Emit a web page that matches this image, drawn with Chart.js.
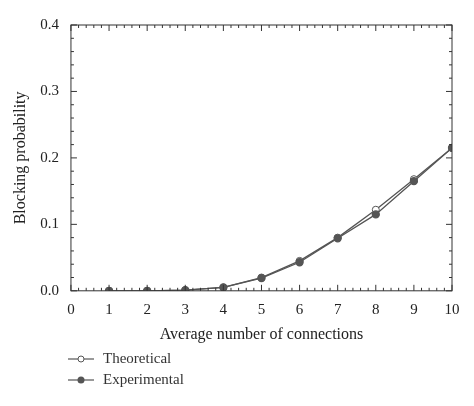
<!DOCTYPE html>
<html><head><script src="https://cdn.jsdelivr.net/npm/chart.js@4"></script>
<style>body{margin:0;background:#fff;font-family:"Liberation Serif",serif;}
#w{position:relative;width:474px;height:406px;}
.lg{position:absolute;left:68px;font-size:15px;color:#333;display:flex;align-items:center;}
.lg svg{margin-right:9px}</style></head>
<body><div id="w"><canvas id="c" width="474" height="406"></canvas>
<div class="lg" style="top:350px"><svg width="26" height="10"><line x1="0" y1="5" x2="26" y2="5" stroke="#555" stroke-width="1.2"/><circle cx="13" cy="5" r="3" fill="#fff" stroke="#555"/></svg>Theoretical</div>
<div class="lg" style="top:371px"><svg width="26" height="10"><line x1="0" y1="5" x2="26" y2="5" stroke="#555" stroke-width="1.2"/><circle cx="13" cy="5" r="3.5" fill="#555"/></svg>Experimental</div>
</div>
<script>
const xs=[1,2,3,4,5,6,7,8,9,10];
const theoretical=[0,0,0.001,0.005,0.02,0.045,0.08,0.122,0.168,0.215];
const experimental=[0,0,0.001,0.005,0.019,0.043,0.079,0.115,0.165,0.215];
const xTicks=[0,1,2,3,4,5,6,7,8,9,10];
const yTicks=[0,0.1,0.2,0.3,0.4];
const col='#555';
const inTicks={id:'inTicks',afterDraw(ch){const c=ch.ctx,a=ch.chartArea,x=ch.scales.x,y=ch.scales.y;c.save();c.strokeStyle='#333';c.lineWidth=1;c.beginPath();
for(let v=0;v<=10.001;v+=0.2){const p=x.getPixelForValue(v);const L=Math.abs(v-Math.round(v))<1e-6?6:3;c.moveTo(p,a.bottom);c.lineTo(p,a.bottom-L);c.moveTo(p,a.top);c.lineTo(p,a.top+L);}
for(let v=0;v<=0.4001;v+=0.02){const p=y.getPixelForValue(v);const L=Math.abs(v*10-Math.round(v*10))<1e-6?6:3;c.moveTo(a.left,p);c.lineTo(a.left+L,p);c.moveTo(a.right,p);c.lineTo(a.right-L,p);}
c.stroke();c.strokeRect(a.left,a.top,a.right-a.left,a.bottom-a.top);c.restore();}};
new Chart(document.getElementById('c'),{type:'line',
data:{datasets:[
{label:'Theoretical',data:xs.map((v,i)=>({x:v,y:theoretical[i]})),borderColor:col,backgroundColor:'#fff',pointBorderColor:col,pointRadius:3.5,borderWidth:1.3,pointBorderWidth:1,order:2},
{label:'Experimental',data:xs.map((v,i)=>({x:v,y:experimental[i]})),borderColor:col,backgroundColor:col,pointRadius:3.5,borderWidth:1.3,order:1}]},
options:{responsive:false,animation:false,layout:{padding:{left:7,right:22,top:25,bottom:58}},
plugins:{legend:{display:false},tooltip:{enabled:false}},
scales:{x:{type:'linear',min:0,max:10,afterBuildTicks:s=>{s.ticks=xTicks.map(v=>({value:v}))},grid:{display:false},border:{display:false},
ticks:{color:'#222',font:{family:'Liberation Serif',size:15},padding:2},
title:{display:true,text:'Average number of connections',color:'#222',font:{family:'Liberation Serif',size:16},padding:{top:4}}},
y:{min:0,max:0.4,afterBuildTicks:s=>{s.ticks=yTicks.map(v=>({value:v}))},grid:{display:false},border:{display:false},
ticks:{color:'#222',font:{family:'Liberation Serif',size:15},callback:v=>v.toFixed(1),padding:4},
title:{display:true,text:'Blocking probability',color:'#222',font:{family:'Liberation Serif',size:16},padding:{bottom:6}}}}},
plugins:[inTicks]});
</script></body></html>
